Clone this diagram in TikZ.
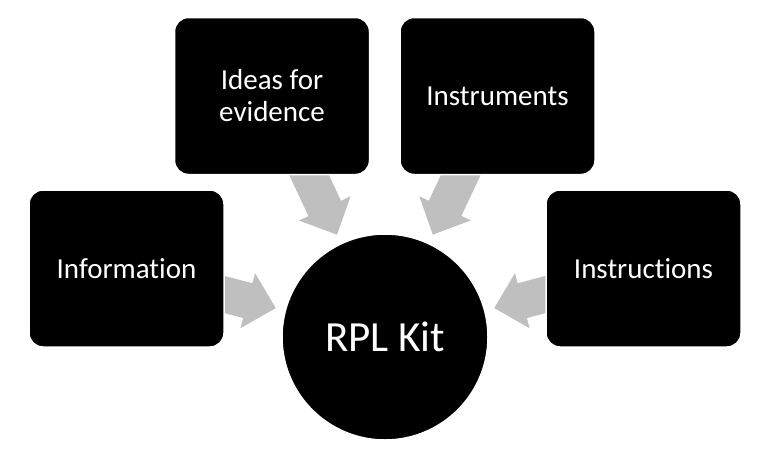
\documentclass[tikz,border=0pt]{standalone}
\usepackage{fontspec}
\setmainfont{Carlito}[RawFeature={-liga}]
\usetikzlibrary{calc}
\definecolor{arrowgray}{HTML}{BFBFBF}
\tikzset{
  box/.style={rectangle, rounded corners=14pt, fill=black, draw=white, line width=1.5pt,
    minimum width=195pt, minimum height=157pt, text=white, align=center,
    font=\fontsize{29}{32}\selectfont},
  hub/.style={circle, fill=black, draw=white, line width=1.5pt, minimum size=206pt,
    text=white, font=\fontsize{43}{50}\selectfont},
  blockarrow/.style={fill=arrowgray}
}
\newcommand{\blkarrow}[2]{%
  \begin{scope}[shift={(#1)}, rotate=#2]
    \fill[blockarrow] (0,0) -- (-29,28.5) -- (-29,18) -- (-85,18) -- (-85,-18) -- (-29,-18) -- (-29,-28.5) -- cycle;
  \end{scope}}
\begin{document}
\begin{tikzpicture}[x=1pt,y=-1pt]
\useasboundingbox (0,0) rectangle (767,471);
\coordinate (kitc) at (385,337);
\coordinate (infoc) at (126.5,268.5);
\coordinate (ideasc) at (272,96);
\coordinate (instrc) at (497.5,96);
\coordinate (instc) at (643.5,268.5);
\coordinate (t1) at ($(kitc)!113pt!(infoc)$);
\coordinate (t2) at ($(kitc)!113pt!(ideasc)$);
\coordinate (t3) at ($(kitc)!113pt!(instrc)$);
\coordinate (t4) at ($(kitc)!113pt!(instc)$);
\blkarrow{t1}{-14.8}
\blkarrow{t2}{-64.9}
\blkarrow{t3}{244.9}
\blkarrow{t4}{194.8}
\node[box] (info) at (infoc) {Information};
\node[box] (ideas) at (ideasc) {Ideas for\\evidence};
\node[box] (instr) at (instrc) {Instruments};
\node[box] (inst) at (instc) {Instructions};
\node[hub] (kit) at (kitc) {RPL Kit};
\end{tikzpicture}
\end{document}
